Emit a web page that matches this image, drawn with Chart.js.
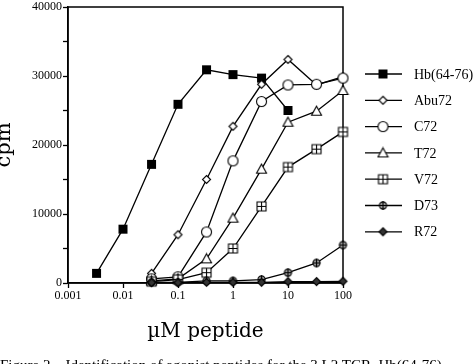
<!DOCTYPE html>
<html lang="en">
  <head>
    <meta charset="UTF-8" />
    <title>cpm vs µM peptide</title>
    <script src="https://cdn.jsdelivr.net/npm/chart.js"></script>
    <style>
      html,
      body {
        margin: 0;
        padding: 0;
        background: #fff;
        overflow: hidden;
      }
      #wrap {
        position: relative;
        width: 474px;
        height: 364px;
      }
      #caption {
        position: absolute;
        left: 0;
        top: 357px;
        font: 15px "Liberation Serif", serif;
        white-space: nowrap;
        color: #000;
      }
    </style>
  </head>
  <body>
    <div id="wrap">
      <canvas id="chart" width="474" height="364"></canvas>
      <div id="caption">
        Figure 2.&nbsp;&nbsp; Identification of agonist peptides for the 3.L2 TCR. Hb(64-76)
      </div>
    </div>

    <script>
      // peptide doses (µM), half-log steps
      const doses = [0.0033, 0.01, 0.033, 0.1, 0.33, 1, 3.3, 10, 33, 100];
      const xTicks = [0.001, 0.01, 0.1, 1, 10, 100];

      const names = ["Hb(64-76)", "Abu72", "C72", "T72", "V72", "D73", "R72"];

      // cpm values, null = not tested
      const hb = [1400, 7800, 17200, 25900, 30900, 30200, 29700, 25000, null, null];
      const abu72 = [null, null, 1400, 7000, 15000, 22700, 28800, 32400, 28700, 29900];
      const c72 = [null, null, 600, 900, 7400, 17700, 26300, 28700, 28800, 29700];
      const t72 = [null, null, 300, 600, 3500, 9400, 16500, 23300, 24900, 27900];
      const v72 = [null, null, 200, 500, 1500, 5000, 11100, 16800, 19400, 21900];
      const d73 = [null, null, 100, 100, 300, 300, 500, 1500, 2900, 5500];
      const r72 = [null, null, 50, 50, 100, 100, 100, 200, 200, 250];

      const markers = ["sq", "dia", "circ", "tri", "sqplus", "circplus", "diafill"];

      // draw a marker into a small canvas, used as pointStyle and in the legend
      function makeMarker(kind) {
        const c = document.createElement("canvas");
        c.width = 13;
        c.height = 13;
        const g = c.getContext("2d");
        const m = 6.5;
        g.lineWidth = 1.1;
        g.strokeStyle = "#000";
        g.fillStyle = "#fff";
        g.beginPath();
        if (kind === "sq") {
          g.fillStyle = "#000";
          g.fillRect(2, 2, 9, 9);
          return c;
        }
        if (kind === "dia" || kind === "diafill") {
          g.moveTo(m, m - 4);
          g.lineTo(m + 4, m);
          g.lineTo(m, m + 4);
          g.lineTo(m - 4, m);
          g.closePath();
          if (kind === "diafill") g.fillStyle = "#333";
        } else if (kind === "circ") {
          g.arc(m, m, 5, 0, Math.PI * 2);
        } else if (kind === "tri") {
          g.moveTo(m, m - 5);
          g.lineTo(m + 5, m + 4);
          g.lineTo(m - 5, m + 4);
          g.closePath();
        } else if (kind === "sqplus") {
          g.rect(2, 2, 9, 9);
        } else if (kind === "circplus") {
          g.arc(m, m, 3.6, 0, Math.PI * 2);
          g.fillStyle = "#999";
        }
        g.fill();
        g.stroke();
        if (kind === "sqplus") {
          g.beginPath();
          g.moveTo(m, 2);
          g.lineTo(m, 11);
          g.moveTo(2, m);
          g.lineTo(11, m);
          g.stroke();
        }
        if (kind === "circplus") {
          g.beginPath();
          g.moveTo(m, m - 4.5);
          g.lineTo(m, m + 4.5);
          g.moveTo(m - 3.6, m);
          g.lineTo(m + 3.6, m);
          g.stroke();
        }
        return c;
      }

      function toPoints(vals) {
        return doses
          .map((d, i) => ({ x: d, y: vals[i] }))
          .filter((p) => p.y !== null);
      }

      const series = [hb, abu72, c72, t72, v72, d73, r72];
      const datasets = series.map((vals, i) => ({
        label: names[i],
        data: toPoints(vals),
        borderColor: "#000",
        borderWidth: 1.3,
        pointStyle: makeMarker(markers[i]),
        pointRadius: 5,
        tension: 0,
        clip: false,
        order: names.length - i,
      }));

      // box around the plot area
      const framePlugin = {
        id: "frame",
        beforeDatasetsDraw(chart) {
          const { ctx, chartArea: a } = chart;
          ctx.save();
          ctx.strokeStyle = "#000";
          ctx.lineWidth = 1.5;
          ctx.strokeRect(a.left, a.top, a.right - a.left, a.bottom - a.top);
          ctx.restore();
        },
      };

      // legend on the right: line segment with marker, then label
      const sideLegend = {
        id: "sideLegend",
        afterDraw(chart) {
          const ctx = chart.ctx;
          ctx.save();
          ctx.font = '14px "Liberation Serif", serif';
          ctx.textBaseline = "middle";
          ctx.fillStyle = "#000";
          chart.data.datasets.forEach((ds, i) => {
            const y = 74 + i * 26.3;
            ctx.beginPath();
            ctx.moveTo(365, y);
            ctx.lineTo(402, y);
            ctx.lineWidth = 1.3;
            ctx.strokeStyle = "#000";
            ctx.stroke();
            const img = ds.pointStyle;
            ctx.drawImage(img, 383 - img.width / 2, y - img.height / 2);
            ctx.fillText(ds.label, 414, y + 1);
          });
          ctx.restore();
        },
      };

      const tickFont = { family: "Liberation Serif", size: 12, lineHeight: 1 };

      new Chart(document.getElementById("chart"), {
        type: "line",
        data: { datasets: datasets },
        plugins: [framePlugin, sideLegend],
        options: {
          responsive: false,
          animation: false,
          layout: { padding: { top: 0, right: 131, left: 0, bottom: 0 } },
          plugins: {
            legend: { display: false },
            tooltip: { enabled: false },
          },
          scales: {
            x: {
              type: "logarithmic",
              min: 0.001,
              max: 100,
              afterBuildTicks: (s) => {
                s.ticks = xTicks.map((v) => ({ value: v }));
              },
              afterFit: (s) => {
                s.height = 81;
              },
              grid: {
                drawOnChartArea: false,
                tickLength: 5,
                tickColor: "#000",
                tickWidth: 1.3,
              },
              border: { color: "#000", width: 1.5 },
              ticks: {
                color: "#000",
                font: tickFont,
                padding: 2,
                maxRotation: 0,
                autoSkip: false,
                callback: (v) => String(v),
              },
              title: {
                display: true,
                text: "µM peptide",
                color: "#000",
                font: { family: "DejaVu Serif", size: 20, lineHeight: 1.2 },
                padding: { top: 0, bottom: 20 },
              },
            },
            y: {
              min: 0,
              max: 40000,
              afterFit: (s) => {
                s.width = 68;
              },
              grid: {
                drawOnChartArea: false,
                tickLength: 5,
                tickColor: "#000",
                tickWidth: 1.3,
              },
              border: { color: "#000", width: 1.5 },
              ticks: {
                stepSize: 5000,
                color: "#000",
                font: tickFont,
                padding: 1,
                autoSkip: false,
                callback: (v) => (v % 10000 === 0 ? String(v) : ""),
              },
              title: {
                display: true,
                text: "cpm",
                color: "#000",
                font: { family: "DejaVu Serif", size: 21, lineHeight: 1 },
                padding: { top: -6, bottom: 0 },
              },
            },
          },
        },
      });
    </script>
  </body>
</html>
